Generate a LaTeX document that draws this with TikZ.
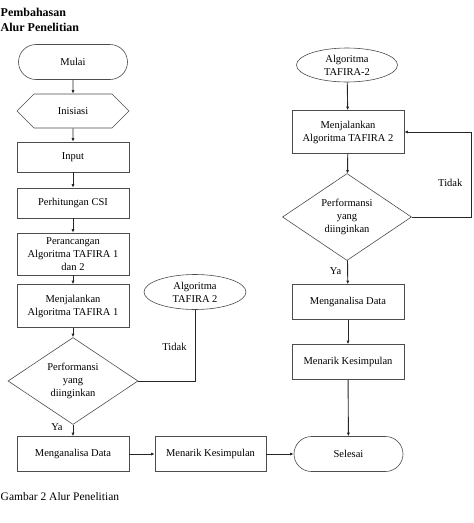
\documentclass[tikz,border=0pt]{standalone}
\usepackage{fontspec}
\setmainfont{Liberation Serif}
\usepackage{tikz}
\usetikzlibrary{shapes.geometric}
\usetikzlibrary{shapes.symbols}
\usetikzlibrary{shapes.misc}
\usetikzlibrary{arrows.meta}
\newcommand{\widthbox}{112pt}
\newcommand{\heightbox}{35pt}
\newcommand{\txt}{\fontsize{10.5}{13}\selectfont}
\tikzset{
    common/.style={draw=black!70, line width=0.6pt, align=center, inner sep=1pt, font=\txt},
    box/.style={common, rectangle, minimum width=\widthbox, minimum height=\heightbox},
    tallbox/.style={box, minimum height=43pt},
    terminal/.style={common, rounded rectangle, minimum width=111pt, minimum height=\heightbox},
    prep/.style={common, signal, signal to=east and west, signal pointer angle=90, minimum width=\widthbox, minimum height=34pt},
    algo/.style={common, ellipse, inner sep=0pt, minimum width=102pt, minimum height=35pt},
    decision/.style={common, diamond, inner sep=0pt, minimum width=130pt, minimum height=86pt},
    flow/.style={draw=black!85, line width=0.9pt, -{Latex[length=3.5pt, width=3pt]}},
    plain/.style={draw=black!85, line width=0.9pt},
    tag/.style={font=\txt, inner sep=1pt}
}
\begin{document}
\begin{tikzpicture}[x=1pt, y=-1pt]
    \useasboundingbox (0,0) rectangle (474,523);

    \path
        (0.5,12) node[anchor=west, inner sep=0pt, font=\fontsize{12}{14}\selectfont\bfseries] (head) {Pembahasan}
        (0.5,27) node[anchor=west, inner sep=0pt, font=\fontsize{12}{14}\selectfont\bfseries] (subhead) {Alur Penelitian}
        (0.5,497) node[anchor=west, inner sep=0pt, font=\fontsize{11.5}{14}\selectfont] (caption) {Gambar 2 Alur Penelitian};

    \path
        (73,62) node[terminal] (mulai) {Mulai}
        ++(0,49) node[prep] (init) {Inisiasi}
        ++(0,46) node[box, minimum height=30pt] (input) {Input}
        ++(0,46) node[box, minimum height=30pt] (csi) {Perhitungan CSI}
        ++(0,51) node[box, minimum height=42pt] (design) {Perancangan\\Algoritma TAFIRA 1\\dan 2}
        ++(0,52) node[tallbox] (runA) {Menjalankan\\Algoritma TAFIRA 1}
        ++(0,75) node[decision] (perfA) {Performansi\\yang\\diinginkan}
        ++(0,73) node[box] (analisaA) {Menganalisa Data}
        ++(137.5,0) node[box, minimum width=111pt] (kesimpulanA) {Menarik Kesimpulan}
        ++(138,0) node[terminal] (selesai) {Selesai};

    \path
        (195,292) node[algo] (algoA) {Algoritma\\TAFIRA 2}
        (347,65) node[algo, minimum width=101pt, minimum height=34pt] (algoB) {Algoritma\\TAFIRA-2}
        ++(1,67) node[tallbox] (runB) {Menjalankan\\Algoritma TAFIRA 2}
        ++(-1,85) node[decision, minimum width=129pt, minimum height=87pt] (perfB) {Performansi\\yang\\diinginkan}
        ++(1,85) node[box] (analisaB) {Menganalisa Data}
        ++(0,60) node[box] (kesimpulanB) {Menarik Kesimpulan};

    \draw[flow]
        (mulai) edge (init)
        (init) edge (input)
        (input) edge (csi)
        (csi) edge (design)
        (design) edge (runA)
        (runA) edge (perfA)
        (perfA) edge node[tag, pos=0.2, left=9pt] {Ya} (analisaA)
        (analisaA) edge (kesimpulanA)
        (kesimpulanA) edge (selesai)
        (algoB) edge (runB)
        (runB) edge (perfB)
        (perfB) edge node[tag, pos=0.45, left=5pt] {Ya} (analisaB)
        (analisaB) edge (kesimpulanB)
        (kesimpulanB) edge (selesai);

    \draw[plain] (algoA.south) |- node[tag, pos=0.26, left=7pt] {Tidak} (perfA.east);

    \path (perfB.east) ++(60,0) coordinate (loopB);
    \draw[flow] (perfB.east) -- (loopB) |- node[tag, pos=0.2, left=8pt] {Tidak} (runB.east);
\end{tikzpicture}
\end{document}
